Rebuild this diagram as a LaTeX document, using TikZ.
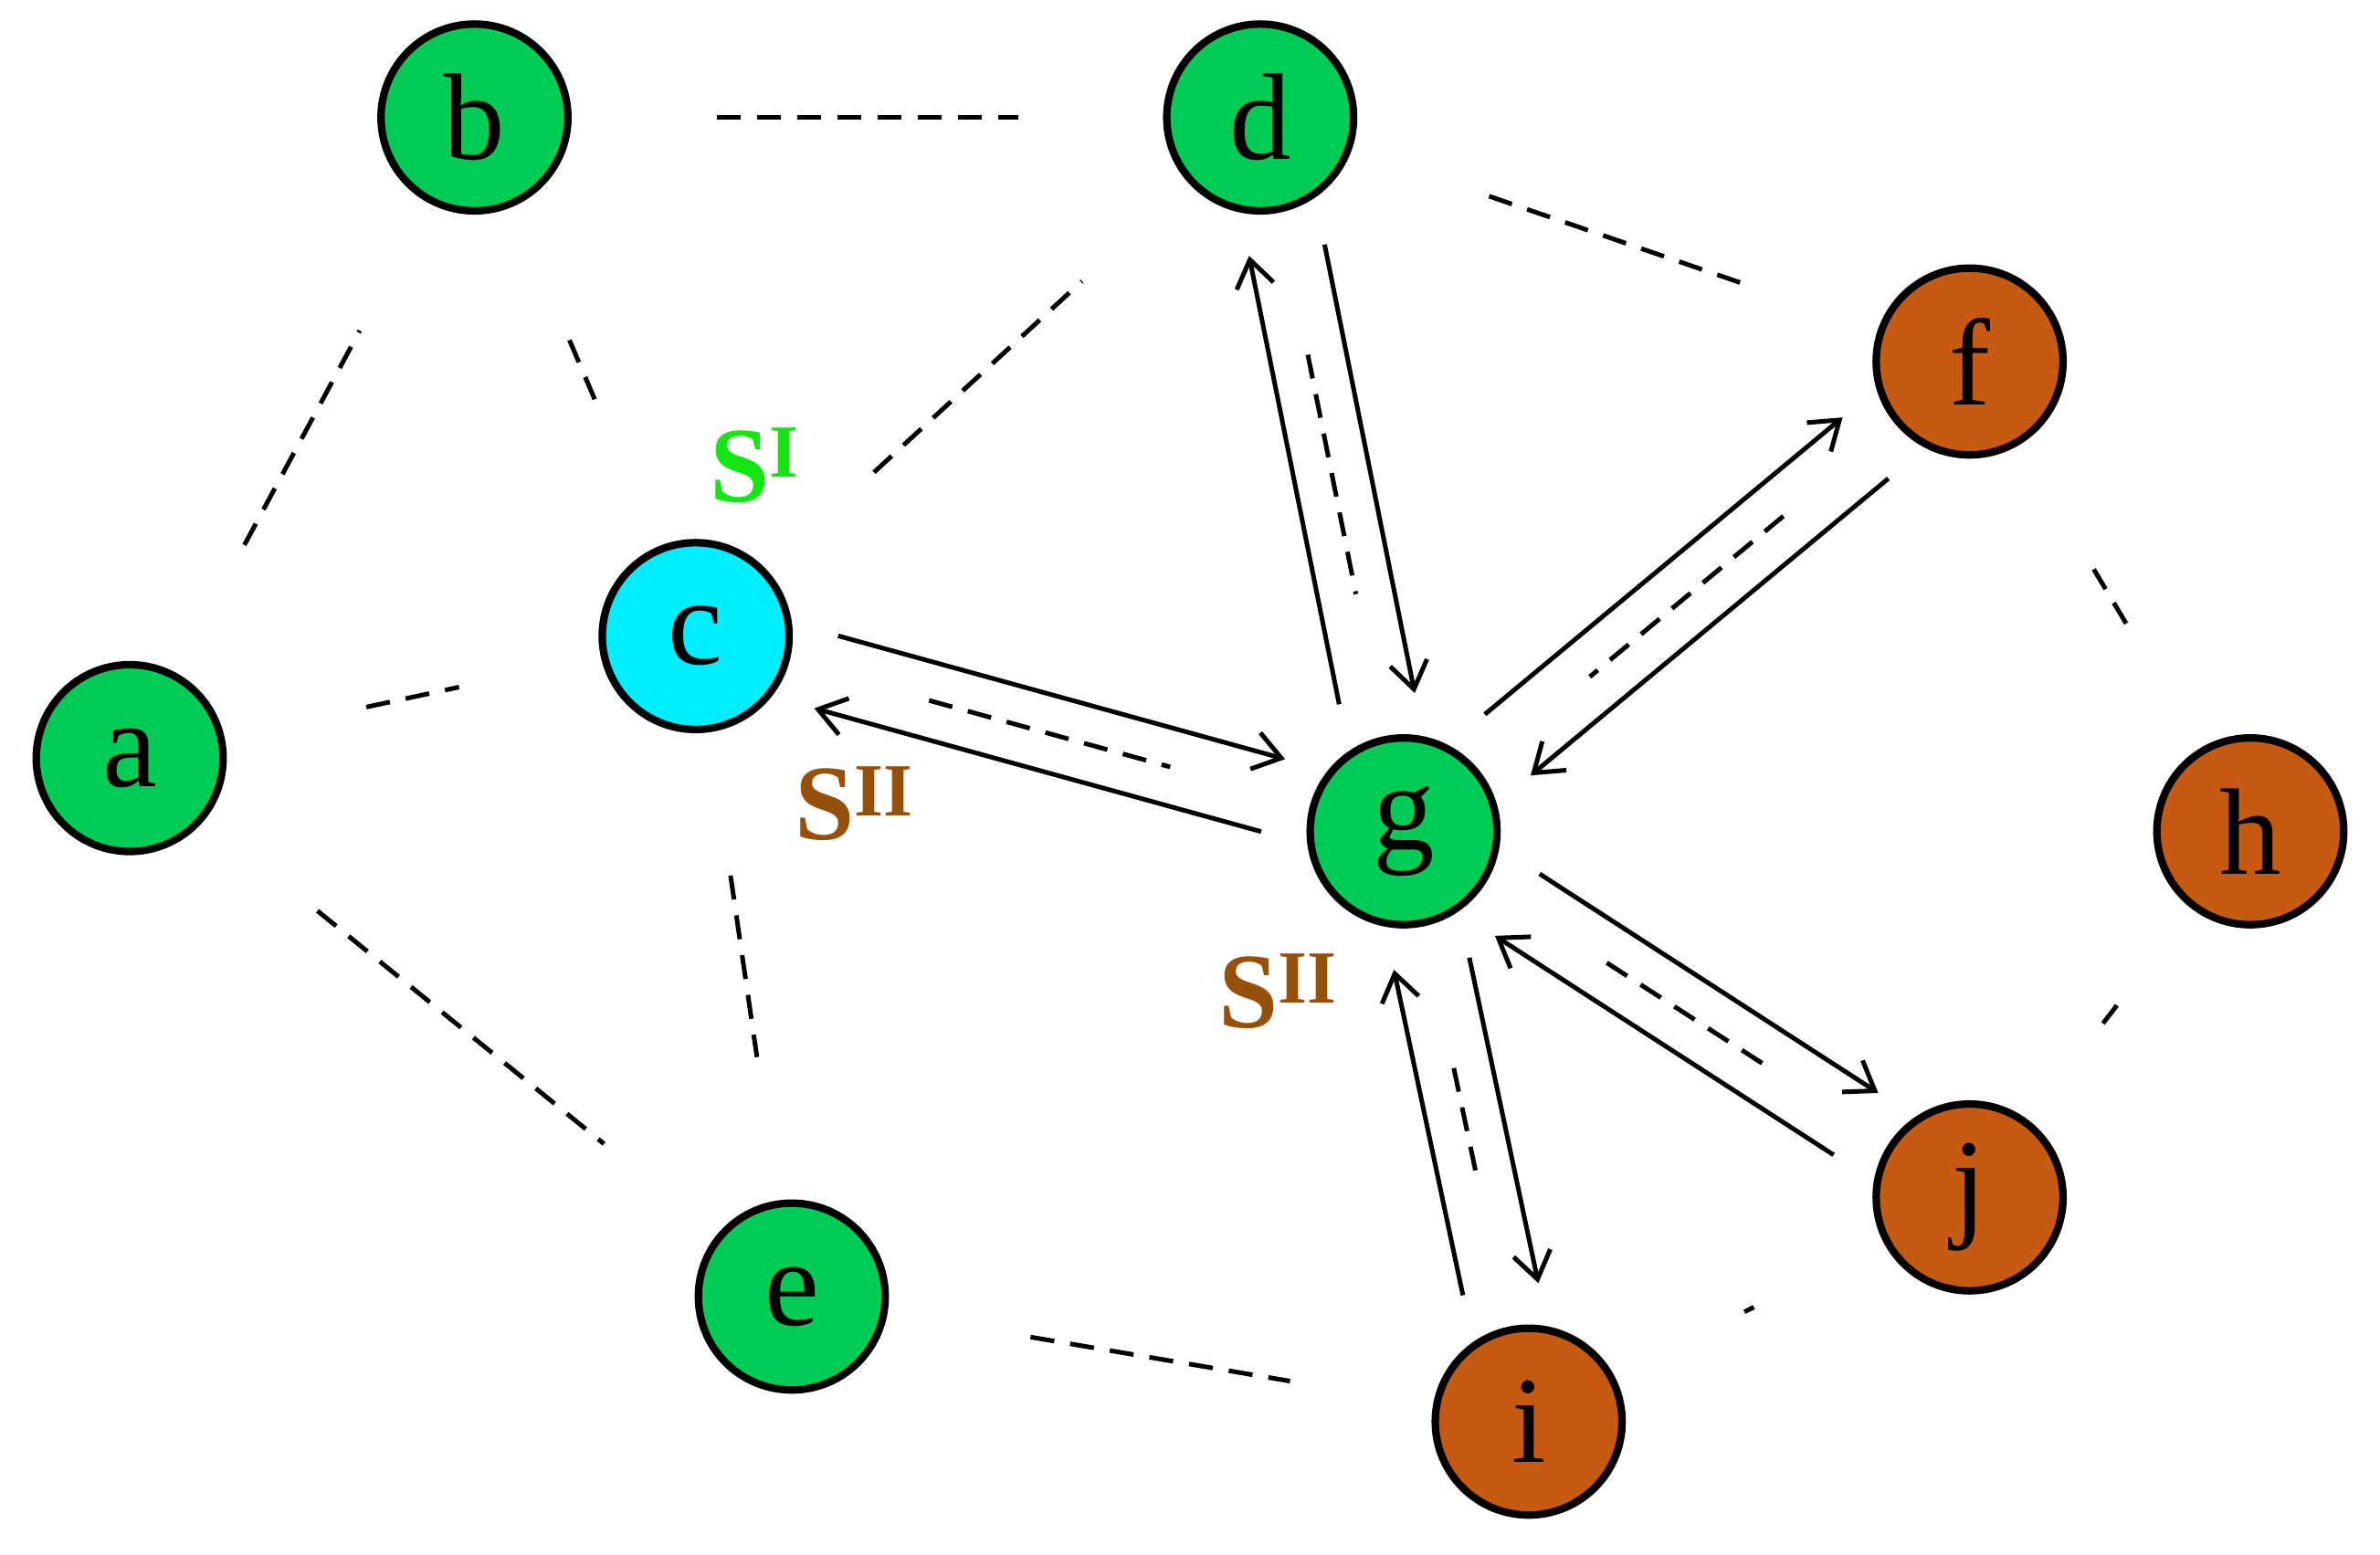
\documentclass[tikz,border=0pt]{standalone}
\usepackage{fontspec}
\setmainfont{Liberation Serif}
\usetikzlibrary{calc,arrows.meta}
\definecolor{gr}{RGB}{0,204,85}
\definecolor{cy}{RGB}{0,238,255}
\definecolor{br}{RGB}{197,90,17}
\definecolor{lbl}{RGB}{150,80,10}
\definecolor{sg}{RGB}{20,230,20}
\begin{document}
\begin{tikzpicture}[x=0.02cm,y=-0.02cm,
  nd/.style={circle,draw=black,line width=2.8pt,minimum size=2.45cm,inner sep=0pt,font=\fontsize{46}{46}\selectfont},
  g/.style={nd,fill=gr},
  o/.style={nd,fill=br},
  ed/.style={dashed,dash pattern=on 9pt off 6pt,line width=1.7pt,shorten <=1.9cm,shorten >=1.9cm},
  arr/.style={line width=1.7pt,-{Straight Barb[length=10pt,width=14pt,line width=1.7pt]},shorten <=1.8cm,shorten >=1.75cm},
  lab/.style={font=\bfseries\fontsize{40}{40}\selectfont}]
\useasboundingbox (0,0) rectangle (1560,1019);
\node[g] (a) at (85,497) {a};
\node[g] (b) at (311,77) {b};
\node[nd,fill=cy] (c) at (456,417) {c};
\node[g] (d) at (826,77) {d};
\node[g] (e) at (519,850) {e};
\node[o] (f) at (1291,237) {f};
\node[g] (gg) at (920,545) {g};
\node[o] (h) at (1475,545) {h};
\node[o] (i) at (1002,932) {i};
\node[o] (j) at (1291,785) {j};
\foreach \u/\v in {b/d,a/b,b/c,c/d,a/c,c/e,a/e,e/i,i/j,j/h,h/f,d/f,c/gg,d/gg,f/gg,gg/j,gg/i}
  \draw[ed] (\u) -- (\v);
\newcommand\offarr[2]{\draw[arr] ($(#1)!0.5cm!90:(#2)$) -- ($(#2)!0.5cm!-90:(#1)$);}
\offarr{c}{gg}\offarr{gg}{c}
\offarr{gg}{d}\offarr{d}{gg}
\offarr{gg}{f}\offarr{f}{gg}
\offarr{gg}{j}\offarr{j}{gg}
\offarr{i}{gg}\offarr{gg}{i}
\node[lab,text=sg] (s1) at (495,305) {S\textsuperscript{I}};
\node[lab,text=lbl] (s2) at (560,527) {S\textsuperscript{II}};
\node[lab,text=lbl] (s3) at (838,650) {S\textsuperscript{II}};
\end{tikzpicture}
\end{document}
